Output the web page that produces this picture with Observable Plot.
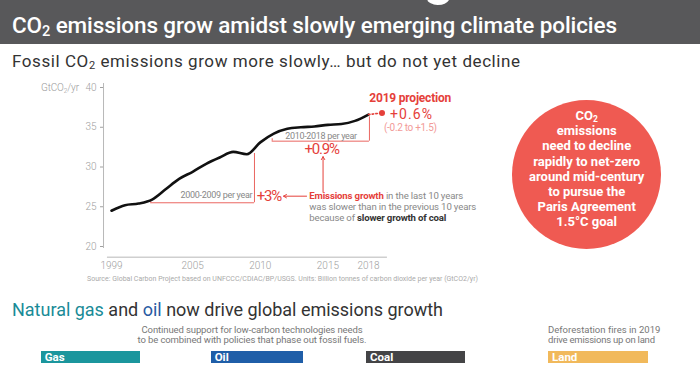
<!DOCTYPE html>
<html>
<head>
<meta charset="utf-8">
<script src="https://cdn.jsdelivr.net/npm/d3@7"></script>
<script src="https://cdn.jsdelivr.net/npm/@observablehq/plot@0.6"></script>
<style>
  html, body { margin: 0; padding: 0; background: #fff; }
  #root { position: relative; width: 700px; height: 368px; overflow: hidden; font-family: Roboto, "Noto Sans", sans-serif; }
  .t { position: absolute; white-space: nowrap; line-height: 1; }
  #band { position: absolute; left: 0; top: 0; width: 700px; height: 44px; background: #58585a; overflow: hidden; }
  #plot { position: absolute; left: 0; top: 70px; }
  .swatch { position: absolute; height: 12px; color: #fff; font-weight: 700; font-size: 11.5px; line-height: 12px; padding-left: 4px; box-sizing: border-box; }
  #circle { position: absolute; left: 512px; top: 100px; width: 149px; height: 149px; border-radius: 50%; background: #ef5a52; }
  sub { font-size: 0.65em; vertical-align: -0.25em; line-height: 0; }
</style>
</head>
<body>
<div id="root">
  <div id="band"></div>
  <div id="circle"></div>
</div>
<script>
// ---- data ----
const years = [1999, 2000, 2001, 2002, 2003, 2004, 2005, 2006, 2007, 2008, 2009, 2010, 2011, 2012, 2013, 2014, 2015, 2016, 2017, 2018];
const emissions = [24.5, 25.2, 25.4, 25.9, 27.2, 28.5, 29.4, 30.4, 31.2, 31.9, 31.6, 33.1, 34.2, 34.8, 35.0, 35.1, 35.3, 35.4, 35.8, 36.6];
const projectionYears = [2018, 2019];
const projectionValues = [36.6, 36.8];
const xTickLabels = [1999, 2005, 2010, 2015, 2018];
const yTickLabels = [20, 25, 30, 35, 40];
const fuelCategories = ["Gas", "Oil", "Coal", "Land"];
const fuelColors = ["#1b969d", "#1f5ea8", "#444446", "#f1b95b"];

const series = years.map((year, i) => ({year, value: emissions[i]}));
const projection = projectionYears.map((year, i) => ({year, value: projectionValues[i]}));

const red = "#e5403a";
const root = document.getElementById("root");
const band = document.getElementById("band");

// ---- chart ----
const chart = Plot.plot({
  width: 700,
  height: 210,
  marginTop: 17,
  marginBottom: 23,
  marginLeft: 103,
  marginRight: 313,
  insetLeft: 8,
  insetRight: 19,
  insetBottom: 11,
  x: {domain: [1999, 2018]},
  y: {domain: [20, 40]},
  style: {fontFamily: "Roboto, sans-serif", fontSize: "10px", color: "#a0a0a0", background: "transparent", overflow: "visible"},
  marks: [
    Plot.ruleX([1998.41], {y1: 19.75, y2: 40.5, stroke: "#b8b8b8", strokeWidth: 1}),
    Plot.ruleY([18.65], {x1: 1998.7, x2: 2019.4, stroke: "#cfcfcf", strokeWidth: 1.5}),
    Plot.axisY({ticks: yTickLabels, tickSize: 3, tickPadding: 4, label: null, fontWeight: 300}),
    Plot.axisX({ticks: xTickLabels, tickSize: 0, tickPadding: 4, tickFormat: d => String(d), label: null, fontWeight: 300}),
    // 2000-2009 bracket
    Plot.ruleY([25.5], {x1: 2001.9, x2: 2009.57, stroke: red, strokeWidth: 1, strokeOpacity: 0.8}),
    Plot.ruleX([2009.57], {y1: 25.5, y2: 31.7, stroke: red, strokeWidth: 1, strokeOpacity: 0.8}),
    Plot.ruleX([2001.9], {y1: 25.5, y2: 25.8, stroke: red, strokeWidth: 1, strokeOpacity: 0.8}),
    // 2010-2018 bracket
    Plot.ruleY([33.25], {x1: 2010.88, x2: 2018.07, stroke: red, strokeWidth: 1, strokeOpacity: 0.8}),
    Plot.ruleX([2018.07], {y1: 33.25, y2: 36.3, stroke: red, strokeWidth: 1, strokeOpacity: 0.8}),
    Plot.ruleX([2010.88], {y1: 33.25, y2: 33.55, stroke: red, strokeWidth: 1, strokeOpacity: 0.8}),
    // arrows
    Plot.arrow([0], {x1: 2014.64, y1: 26.83, x2: 2014.64, y2: 31.3, stroke: red, strokeWidth: 1, headLength: 5}),
    Plot.arrow([0], {x1: 2013.42, y1: 26.33, x2: 2011.72, y2: 26.33, stroke: red, strokeWidth: 1, headLength: 5}),
    // emissions
    Plot.line(series, {x: "year", y: "value", stroke: "#111", strokeWidth: 2.6, curve: "monotone-x"}),
    Plot.line(projection, {x: "year", y: "value", stroke: red, strokeWidth: 1.6, strokeDasharray: "1.5,2.2"}),
    Plot.dot(projection.slice(1), {x: "year", y: "value", r: 3, fill: red})
  ]
});
chart.id = "plot";
root.appendChild(chart);

// ---- text helpers ----
function label(html, x, y, css, anchor = "start", width = null, parent = root) {
  const d = document.createElement("div");
  d.className = "t";
  d.innerHTML = html;
  const tx = anchor === "start" ? 0 : anchor === "middle" ? -50 : -100;
  d.style.cssText = `left:${x}px;top:${y}px;transform:translate(${tx}%,-50%);` + css;
  parent.appendChild(d);
  if (width) {
    const w = d.getBoundingClientRect().width;
    const n = d.textContent.length;
    let ls = (width - w) / Math.max(1, n - 1);
    ls = Math.max(-1.2, Math.min(1.5, ls));
    d.style.letterSpacing = ls.toFixed(3) + "px";
  }
  return d;
}

// remnant of the large headline above the crop (only the descender shows)
label("g", 424, -23, "font-size:52px;font-weight:700;color:#fff;", "start", null, band);

label("CO<sub>2</sub> emissions grow amidst slowly emerging climate policies", 12, 24.5, "font-size:22.5px;font-weight:500;color:#fff;", "start", 605, band);
label("Fossil CO<sub>2</sub> emissions grow more slowly… but do not yet decline", 12, 60.5, "font-size:17px;color:#333;", "start", 508);
label("GtCO<sub>2</sub>/yr", 41, 88, "font-size:10px;color:#999;font-weight:300;", "start", 38);

label("2000-2009 per year", 252.3, 195.3, "font-size:9px;color:#888;", "end", 72);
label("+3%", 256.7, 195.7, "font-size:15px;color:" + red + ";", "start", 24);
label(`<span style="color:${red};font-weight:700">Emissions growth</span> in the last 10 years`, 309.3, 195.7, "font-size:9.6px;color:#888;", "start", 154);
label("was slower than in the previous 10 years", 309.3, 207.3, "font-size:9.6px;color:#888;", "start", 167);
label(`because of <span style="color:#333;font-weight:700">slower growth of coal</span>`, 309.3, 217.7, "font-size:9.6px;color:#888;", "start", 137);
label("+0.9%", 321.7, 149, "font-size:15px;color:" + red + ";", "middle", 33);
label("2010-2018 per year", 321, 136, "font-size:9px;color:#888;", "middle", 72);
label("2019 projection", 369.3, 98, "font-size:12px;font-weight:700;color:" + red + ";", "start", 82);
label("+0.6%", 390, 113.5, "font-size:14px;color:" + red + ";", "start", 42);
label("(-0.2 to +1.5)", 384, 127.5, "font-size:10px;color:#f29b98;", "start", 53);

label("Source: Global Carbon Project based on UNFCCC/CDIAC/BP/USGS. Units: Billion tonnes of carbon dioxide per year (GtCO2/yr)", 87, 278.7, "font-size:7px;color:#aaa;", "start", 391);

// circle text
const circleLines = ["CO<sub>2</sub>", "emissions", "need to decline", "rapidly to net-zero", "around mid-century", "to pursue the", "Paris Agreement", "1.5°C goal"];
circleLines.forEach((l, i) => label(l, 586.7, 115 + i * 15.2, "font-size:13px;font-weight:700;color:#fff;", "middle"));

// bottom section
label(`<span style="color:#1a8b97">Natural gas</span> and <span style="color:#2a5aa2">oil</span> now drive global emissions growth`, 12, 309.5, "font-size:18px;color:#333;", "start", 431);
label("Continued support for low-carbon technologies needs", 252, 329.7, "font-size:9.5px;color:#777;", "middle", 221);
label("to be combined with policies that phase out fossil fuels.", 252, 340.3, "font-size:9.5px;color:#777;", "middle", 229);
label("Deforestation fires in 2019", 548, 329.7, "font-size:9.5px;color:#777;", "start", 112);
label("drive emissions up on land", 548, 340.3, "font-size:9.5px;color:#777;", "start", 107);

const swatchLeft = [40.7, 210.7, 366, 548];
const swatchRight = [140, 303.3, 465, 648];
fuelCategories.forEach((name, i) => {
  const s = document.createElement("div");
  s.className = "swatch";
  s.textContent = name;
  s.style.left = swatchLeft[i] + "px";
  s.style.top = "351.3px";
  s.style.width = (swatchRight[i] - swatchLeft[i]) + "px";
  s.style.background = fuelColors[i];
  root.appendChild(s);
});
</script>
</body>
</html>
